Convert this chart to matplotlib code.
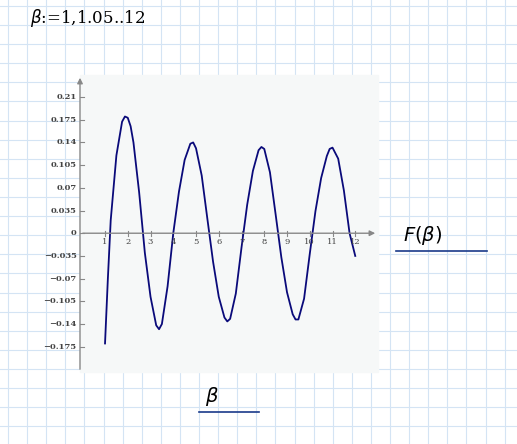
import matplotlib.pyplot as plt
import numpy as np

beta = [1.0, 1.125, 1.25, 1.5, 1.75, 1.875, 2.0, 2.125, 2.25, 2.5, 2.75, 3.0, 3.25, 3.375, 3.5, 3.75, 4.0,
        4.25, 4.5, 4.75, 4.875, 5.0, 5.25, 5.5, 5.75, 6.0, 6.25, 6.375, 6.5, 6.75, 7.0,
        7.25, 7.5, 7.75, 7.875, 8.0, 8.25, 8.5, 8.75, 9.0, 9.25, 9.375, 9.5, 9.75, 10.0,
        10.25, 10.5, 10.75, 10.875, 11.0, 11.25, 11.5, 11.75, 12.0]
F = [-0.170, -0.070, 0.020, 0.120, 0.172, 0.180, 0.178, 0.165, 0.140, 0.063, -0.030, -0.098, -0.142, -0.148, -0.140, -0.082, 0.0,
     0.064, 0.113, 0.138, 0.140, 0.131, 0.089, 0.022, -0.044, -0.098, -0.130, -0.136, -0.132, -0.093, -0.022,
     0.044, 0.096, 0.128, 0.133, 0.130, 0.094, 0.029, -0.037, -0.091, -0.125, -0.133, -0.133, -0.101, -0.032,
     0.034, 0.085, 0.119, 0.130, 0.132, 0.115, 0.066, 0.0, -0.035]
xticks = list(range(1, 13))
yticks = [-0.175, -0.14, -0.105, -0.07, -0.035, 0, 0.035, 0.07, 0.105, 0.14, 0.175, 0.21]

W, H = 517, 444
fig = plt.figure(figsize=(W / 100, H / 100), dpi=100)

# grid paper background
bg = fig.add_axes([0, 0, 1, 1])
bg.set_xlim(0, W)
bg.set_ylim(H, 0)
bg.axis('off')
for gx in np.arange(8, W, 19.1):
    bg.axvline(gx, color='#d4e4f4', lw=0.8)
for gy in np.arange(6, H, 19.1):
    bg.axhline(gy, color='#d4e4f4', lw=0.8)
bg.add_patch(plt.Rectangle((80, 75), 298, 297, color='#f6f8f8', zorder=2))

bg.text(30, 18, r'$\beta$:=1,1.05..12', fontsize=12, family='DejaVu Serif', va='center', zorder=3)
bg.text(403, 235, r'$F(\beta)$', fontsize=14, va='center', zorder=3)
bg.plot([396, 487], [251, 251], color='#1a3a8a', lw=1.2, zorder=3)
bg.text(205, 396, r'$\beta$', fontsize=14, va='center', zorder=3)
bg.plot([199, 259], [412, 412], color='#1a3a8a', lw=1.2, zorder=3)

ax = fig.add_axes([80 / W, 1 - 372 / H, 298 / W, 297 / H], zorder=4)
ax.patch.set_alpha(0)
ax.set_xlim(-0.10, 13.0)
ax.set_ylim(-0.214, 0.244)
for s in ax.spines.values():
    s.set_visible(False)
ax.set_xticks([])
ax.set_yticks([])

ax.annotate('', xy=(13.0, 0), xytext=(-0.10, 0),
            arrowprops=dict(arrowstyle='-|>', color='#888888', lw=1, mutation_scale=8))
ax.annotate('', xy=(-0.10, 0.244), xytext=(-0.10, -0.214),
            arrowprops=dict(arrowstyle='-|>', color='#888888', lw=1, mutation_scale=8))
for t in xticks:
    ax.plot([t, t], [-0.004, 0.004], color='#888888', lw=0.8)
    ax.text(t, -0.008, str(t), fontsize=6, family='DejaVu Serif', ha='center', va='top', color='#444444')
for t in yticks:
    ax.plot([-0.10, 0.08], [t, t], color='#888888', lw=0.8)
    lab = '0' if t == 0 else f'{t:g}'.replace('-', '\u2212')
    ax.text(-0.25, t, lab, fontsize=6, family='DejaVu Serif', ha='right', va='center',
            color='#444444', fontweight='bold')

ax.plot(beta, F, color='#0a0a7a', lw=1.3)

fig.savefig('out.png', dpi=100)
